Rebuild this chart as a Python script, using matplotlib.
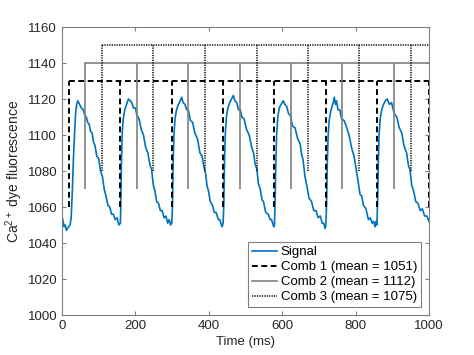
import matplotlib
matplotlib.use('Agg')
import matplotlib.pyplot as plt
import numpy as np

plt.rcParams['font.family'] = ['Liberation Sans', 'DejaVu Sans']
plt.rcParams['mathtext.default'] = 'regular'
plt.rcParams['font.size'] = 9

# signal trace (time in ms, fluorescence)
sig_t = [0, 3, 6, 9, 12, 15, 18, 22, 25, 28, 31, 34, 37, 40, 43, 48, 53, 58, 62, 66, 70, 74, 78, 82, 86, 90, 95,
         100, 105, 110, 115, 120, 125, 130, 135, 140, 145, 150, 155, 159,
         160, 162, 164, 167, 171, 176, 181, 186, 190, 195, 200, 204, 210, 216, 222, 228, 234, 240, 244, 249,
         253, 258, 263, 268, 273, 278, 283, 288, 292, 296, 299,
         301, 303, 305, 308, 312, 317, 322, 326, 330, 335, 340, 344, 350, 356, 362, 369, 376, 382, 387, 391,
         395, 399, 404, 410, 415, 420, 426, 430, 433, 436, 439,
         441, 443, 445, 448, 452, 457, 462, 467, 471, 476, 481, 486, 490, 496, 503, 510, 517, 522, 526, 531,
         535, 540, 545, 549, 555, 562, 567, 571, 574, 577,
         579, 581, 583, 585, 588, 592, 597, 603, 607, 612, 617, 622, 628, 635, 642, 649, 653, 657, 662, 667,
         673, 680, 686, 692, 698, 704, 709, 713, 717, 719,
         721, 723, 725, 728, 732, 736, 739, 742, 745, 748, 752, 757, 762, 769, 776, 782, 789, 796, 803, 807,
         812, 817, 821, 828, 835, 840, 845, 849, 853, 856, 858,
         860, 862, 864, 867, 871, 876, 881, 886, 892, 898, 905, 912, 919, 926, 932, 939, 944, 948, 953, 958,
         964, 970, 976, 982, 988, 994, 1000]
sig_v = [1055, 1052, 1049, 1050, 1047, 1048, 1049, 1050, 1054, 1068, 1086, 1100, 1112, 1117, 1119, 1117, 1115, 1114, 1111, 1110, 1107, 1106, 1102, 1101, 1096, 1094, 1088,
         1087, 1080, 1077, 1070, 1066, 1061, 1060, 1056, 1056, 1053, 1054, 1050, 1051,
         1058, 1085, 1101, 1109, 1114, 1117, 1120, 1119, 1118, 1115, 1115, 1111, 1109, 1103, 1100, 1093, 1090, 1083, 1081, 1072,
         1069, 1063, 1062, 1058, 1058, 1054, 1055, 1051, 1053, 1050, 1051,
         1060, 1085, 1100, 1109, 1114, 1117, 1119, 1121, 1118, 1117, 1114, 1114, 1108, 1107, 1101, 1098, 1090, 1088, 1082, 1079,
         1072, 1069, 1063, 1061, 1057, 1057, 1053, 1053, 1051, 1049, 1051,
         1062, 1087, 1101, 1110, 1115, 1118, 1120, 1122, 1119, 1118, 1114, 1114, 1110, 1109, 1103, 1100, 1093, 1090, 1084, 1081,
         1073, 1070, 1064, 1063, 1057, 1056, 1053, 1053, 1051, 1049,
         1050, 1066, 1088, 1101, 1110, 1115, 1117, 1119, 1117, 1116, 1112, 1111, 1105, 1104, 1098, 1095, 1089, 1086, 1077, 1072,
         1065, 1063, 1058, 1058, 1054, 1055, 1051, 1051, 1048, 1050,
         1062, 1085, 1099, 1108, 1113, 1116, 1118, 1121, 1117, 1119, 1114, 1114, 1109, 1108, 1104, 1100, 1093, 1088, 1079, 1074,
         1067, 1066, 1061, 1059, 1053, 1054, 1051, 1052, 1049, 1052, 1050,
         1063, 1086, 1100, 1109, 1114, 1117, 1119, 1120, 1117, 1118, 1112, 1110, 1104, 1101, 1094, 1090, 1083, 1081, 1072, 1069,
         1063, 1062, 1058, 1059, 1055, 1055, 1052]

# comb tooth positions (ms), top level and tooth bottom
comb1_teeth = [18, 158, 299, 439, 578, 719, 859, 1000]
comb2_teeth = [64, 204, 344, 485, 624, 764, 905]
comb3_teeth = [108, 249, 389, 530, 670, 809, 950]
comb_top = [1130, 1140, 1150]
comb_bottom = [1060, 1070, 1080]
comb_means = [1051, 1112, 1075]
t_end = 1000

fig = plt.figure(figsize=(4.74, 3.55), dpi=100)
ax = fig.add_axes([62 / 474, 40 / 355, 367 / 474, 288 / 355])

h_sig, = ax.plot(sig_t, sig_v, color='#0072BD', lw=1.2)

styles = [dict(color='black', lw=1.4, linestyle=(0, (3, 1.8))),
          dict(color='#808080', lw=1.2, linestyle='-'),
          dict(color='black', lw=1.1, linestyle=(0, (0.8, 0.8)))]
handles = [h_sig]
labels = ['Signal']
for i, teeth in enumerate([comb1_teeth, comb2_teeth, comb3_teeth]):
    st = styles[i]
    h, = ax.plot([teeth[0], t_end], [comb_top[i], comb_top[i]], **st)
    ax.vlines(teeth, comb_bottom[i], comb_top[i], colors=st['color'],
              linewidth=st['lw'], linestyles=st['linestyle'])
    handles.append(h)
    labels.append('Comb %d (mean = %d)' % (i + 1, comb_means[i]))

ax.set_xlim(0, 1000)
ax.set_ylim(1000, 1160)
ax.set_xticks(np.arange(0, 1001, 200))
ax.set_yticks(np.arange(1000, 1161, 20))
ax.tick_params(direction='in', top=True, right=True, length=3, color='#808080',
               labelcolor='#262626', labelsize=9.5)
for s in ax.spines.values():
    s.set_color('#808080')
    s.set_linewidth(0.8)

ax.set_xlabel('Time (ms)', fontsize=9.5, color='#262626', labelpad=3)
ax.set_ylabel('Ca$^{2+}$ dye fluorescence', fontsize=10, color='#262626', labelpad=2)

leg = ax.legend(handles, labels, loc='lower right', fancybox=False, framealpha=1,
                edgecolor='#808080', fontsize=9.5, handlelength=1.9, labelspacing=0.2,
                borderaxespad=0.6, handletextpad=0.3, borderpad=0.3)
leg.get_frame().set_linewidth(0.8)

fig.savefig('out.png', dpi=100)
